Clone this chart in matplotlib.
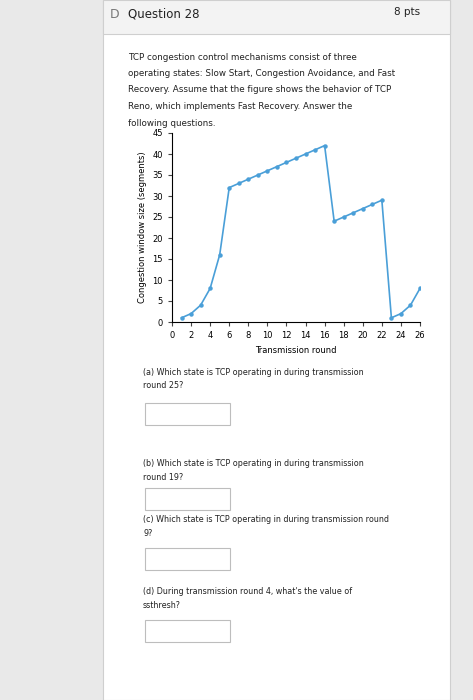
import matplotlib
matplotlib.use("Agg")
import matplotlib.pyplot as plt
from matplotlib.patches import Rectangle

rounds = list(range(1, 27))
cwnd = [1, 2, 4, 8, 16, 32, 33, 34, 35, 36, 37, 38, 39, 40, 41, 42,
        24, 25, 26, 27, 28, 29, 1, 2, 4, 8]
xticks = list(range(0, 27, 2))
yticks = list(range(0, 46, 5))

W, H = 473, 700
fig = plt.figure(figsize=(W/100, H/100), dpi=100)
fig.patch.set_facecolor("#e9e9e9")

def fx(x): return x / W
def fy(y): return 1 - y / H

def rect(x0, y0, x1, y1, fc, ec="none", lw=0.8):
    fig.patches.append(Rectangle((fx(x0), fy(y1)), fx(x1) - fx(x0), fy(y0) - fy(y1),
                                 transform=fig.transFigure, fc=fc, ec=ec, lw=lw, zorder=-5))

rect(103, 0, 450, 700, "#ffffff", "#cfcfcf")
rect(103, 0, 450, 34, "#f3f3f3", "#cfcfcf")
fig.text(fx(110), fy(14), "D", fontsize=9, color="#777", va="center")
fig.text(fx(128), fy(14), "Question 28", fontsize=8.5, color="#222", va="center")
fig.text(fx(420), fy(12), "8 pts", fontsize=7.5, color="#222", va="center", ha="right")

para = ["TCP congestion control mechanisms consist of three",
        "operating states: Slow Start, Congestion Avoidance, and Fast",
        "Recovery. Assume that the figure shows the behavior of TCP",
        "Reno, which implements Fast Recovery. Answer the",
        "following questions."]
for i, s in enumerate(para):
    fig.text(fx(128), fy(57 + 16.5 * i), s, fontsize=6.3, color="#222", va="center")

ax = fig.add_axes([fx(172), fy(322), fx(420) - fx(172), fy(133) - fy(322)])
ax.set_zorder(5)
ax.plot(rounds, cwnd, color="#4a9fd8", lw=1.2, marker="o", ms=2.2)
ax.set_xlim(0, 26)
ax.set_ylim(0, 45)
ax.set_xticks(xticks)
ax.set_yticks(yticks)
ax.tick_params(labelsize=6, length=3, color="#444")
for s in ["top", "right"]:
    ax.spines[s].set_visible(False)
ax.set_xlabel("Transmission round", fontsize=6)
ax.set_ylabel("Congestion window size (segments)", fontsize=6)
ax.set_facecolor("none")

qs = [("(a) Which state is TCP operating in during transmission", "round 25?", 372, 403),
      ("(b) Which state is TCP operating in during transmission", "round 19?", 464, 488),
      ("(c) Which state is TCP operating in during transmission round", "9?", 519, 548),
      ("(d) During transmission round 4, what's the value of", "ssthresh?", 591, 620)]
for l1, l2, y, by in qs:
    fig.text(fx(143), fy(y), l1, fontsize=5.8, color="#222", va="center")
    fig.text(fx(143), fy(y + 14), l2, fontsize=5.8, color="#222", va="center")
    rect(145, by, 230, by + 22, "#ffffff", "#bdbdbd")

fig.savefig("out.png", dpi=100, facecolor=fig.get_facecolor())
